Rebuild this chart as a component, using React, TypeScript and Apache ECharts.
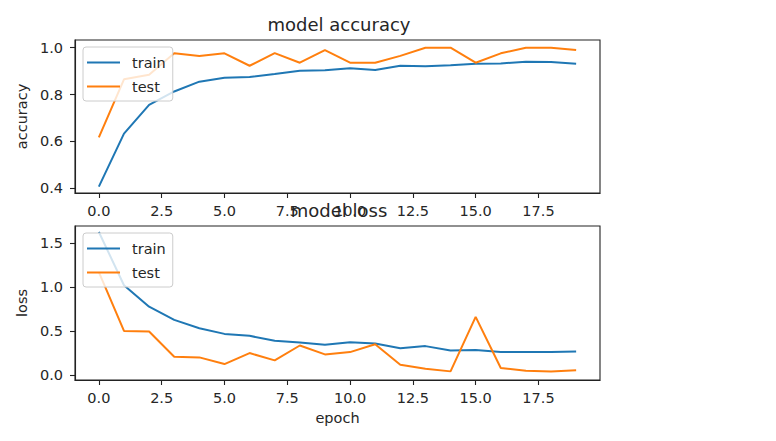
import React, { useEffect, useRef } from "react";
import * as echarts from "echarts";

const epochs = [0, 1, 2, 3, 4, 5, 6, 7, 8, 9, 10, 11, 12, 13, 14, 15, 16, 17, 18, 19];
const accTrain = [0.406, 0.633, 0.756, 0.813, 0.855, 0.872, 0.875, 0.888, 0.902, 0.904, 0.912, 0.905, 0.923, 0.921, 0.925, 0.932, 0.933, 0.94, 0.939, 0.932];
const accTest = [0.617, 0.865, 0.884, 0.976, 0.965, 0.976, 0.923, 0.977, 0.936, 0.99, 0.936, 0.936, 0.965, 1.0, 1.0, 0.936, 0.976, 1.0, 1.0, 0.99];
const lossTrain = [1.625, 1.02, 0.776, 0.626, 0.531, 0.467, 0.445, 0.388, 0.369, 0.343, 0.373, 0.358, 0.305, 0.328, 0.279, 0.283, 0.26, 0.26, 0.26, 0.268];
const lossTest = [1.17, 0.501, 0.494, 0.207, 0.2, 0.124, 0.249, 0.166, 0.335, 0.234, 0.26, 0.35, 0.117, 0.072, 0.041, 0.66, 0.079, 0.049, 0.041, 0.053];
const xTicks = [0, 2.5, 5, 7.5, 10, 12.5, 15, 17.5];
const accTicks = [0.4, 0.6, 0.8, 1.0];
const lossTicks = [0, 0.5, 1.0, 1.5];
const titles = ["model accuracy", "model loss"];
const seriesNames = ["train", "test"];

const FONT = "DejaVu Sans";
const TXT = "#262626";
const BLUE = "#1f77b4";
const ORANGE = "#ff7f0e";

export default function App() {
  const ref = useRef<HTMLDivElement>(null);
  useEffect(() => {
    if (!ref.current) return;
    const chart = echarts.init(ref.current, undefined, { renderer: "svg" });
    const pair = (ys: number[]) => epochs.map((e, i) => [e, ys[i]]);
    const xAxisBase = (gridIndex: number, name?: string) => ({
      type: "value",
      gridIndex,
      min: -0.95,
      max: 19.95,
      splitLine: { show: false },
      axisLine: { show: true, onZero: false, lineStyle: { color: "#222", width: 1.1 } },
      axisTick: { show: true, customValues: xTicks, length: 5, lineStyle: { color: "#222", width: 1.1 } },
      axisLabel: {
        customValues: xTicks,
        formatter: (v: number) => v.toFixed(1),
        fontFamily: FONT,
        fontSize: 14.5,
        color: TXT,
        margin: 10,
      },
      name: name ?? "",
      nameLocation: "middle",
      nameGap: 30,
      nameTextStyle: { fontFamily: FONT, fontSize: 14.5, color: TXT },
    });
    const yAxisBase = (gridIndex: number, min: number, max: number, ticks: number[], name: string) => ({
      type: "value",
      gridIndex,
      min,
      max,
      splitLine: { show: false },
      axisLine: { show: true, onZero: false, lineStyle: { color: "#222", width: 1.1 } },
      axisTick: { show: true, customValues: ticks, length: 5, lineStyle: { color: "#222", width: 1.1 } },
      axisLabel: {
        customValues: ticks,
        formatter: (v: number) => v.toFixed(1),
        fontFamily: FONT,
        fontSize: 14.5,
        color: TXT,
        margin: 12,
      },
      name,
      nameLocation: "middle",
      nameGap: 40,
      nameTextStyle: { fontFamily: FONT, fontSize: 14.5, color: TXT },
    });
    const legendBase = (top: number) => ({
      data: seriesNames,
      orient: "vertical",
      left: 83,
      top,
      icon: "rect",
      itemWidth: 33,
      itemHeight: 2,
      itemGap: 9,
      padding: [8, 7, 7, 4],
      backgroundColor: "rgba(255,255,255,0.8)",
      borderColor: "#cccccc",
      borderWidth: 1,
      borderRadius: 3,
      selectedMode: false,
      textStyle: { fontFamily: FONT, fontSize: 14.5, color: TXT, lineHeight: 14, padding: [0, 0, 0, 7] },
    });
    const line = (name: string, color: string, idx: number, ys: number[]) => ({
      type: "line",
      name,
      xAxisIndex: idx,
      yAxisIndex: idx,
      data: pair(ys),
      symbol: "none",
      showSymbol: false,
      lineStyle: { color, width: 2 },
      itemStyle: { color },
      z: name === "train" ? 2 : 3,
    });
    chart.setOption({
      animation: false,
      backgroundColor: "#ffffff",
      title: [
        { text: titles[0], left: 334, textAlign: "center", top: 10, textStyle: { fontFamily: FONT, fontSize: 18, fontWeight: "normal", color: TXT } },
        { text: titles[1], left: 334, textAlign: "center", top: 196, textStyle: { fontFamily: FONT, fontSize: 18, fontWeight: "normal", color: TXT } },
      ],
      grid: [
        { left: 75, top: 40, width: 525, height: 153, show: true, borderColor: "#222", borderWidth: 1.1, backgroundColor: "transparent" },
        { left: 75, top: 226, width: 525, height: 154, show: true, borderColor: "#222", borderWidth: 1.1, backgroundColor: "transparent" },
      ],
      legend: [legendBase(47), legendBase(233)],
      xAxis: [xAxisBase(0), xAxisBase(1, "epoch")],
      yAxis: [
        yAxisBase(0, 0.379, 1.033, accTicks, "accuracy"),
        yAxisBase(1, -0.057, 1.693, lossTicks, "loss"),
      ],
      series: [
        line(seriesNames[0], BLUE, 0, accTrain),
        line(seriesNames[1], ORANGE, 0, accTest),
        line(seriesNames[0], BLUE, 1, lossTrain),
        line(seriesNames[1], ORANGE, 1, lossTest),
      ],
    } as any);
    return () => chart.dispose();
  }, []);
  return <div ref={ref} style={{ position: "absolute", left: 0, top: 0, width: 776, height: 441 }} />;
}
